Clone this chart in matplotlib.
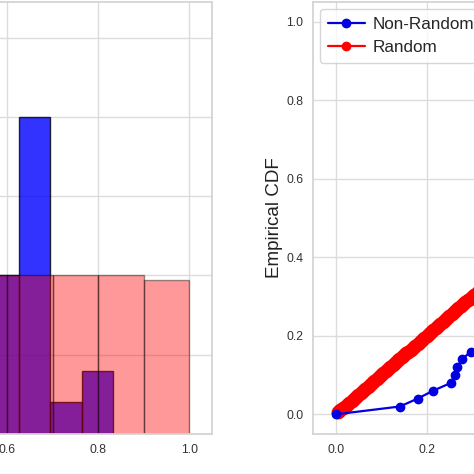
import matplotlib
matplotlib.use("Agg")
import matplotlib.pyplot as plt
import numpy as np
import seaborn as sns

# left panel: histogram bars (bin edges + bar heights)
blue_bins = [0.421, 0.490, 0.558, 0.626, 0.694, 0.763, 0.832]
blue_heights = [2.2, 5.2, 2.0, 4.0, 0.4, 0.8]
red_bins = [0.5, 0.6, 0.7, 0.8, 0.9, 1.0]
red_heights = [2.0, 2.0, 2.0, 2.0, 1.94]

# right panel: empirical CDF points
nonrandom_x = [0.0, 0.141, 0.180, 0.214, 0.253, 0.262, 0.267, 0.278, 0.297, 0.33]
nonrandom_y = [0.0, 0.020, 0.040, 0.060, 0.080, 0.100, 0.120, 0.140, 0.160, 0.18]
# sorted "random" sample values (they sit on the diagonal)
random_x = [0.005, 0.010, 0.015, 0.020, 0.025, 0.030, 0.035, 0.040, 0.045, 0.050,
            0.055, 0.060, 0.065, 0.070, 0.075, 0.080, 0.085, 0.090, 0.095, 0.100,
            0.105, 0.110, 0.115, 0.120, 0.125, 0.130, 0.135, 0.140, 0.145, 0.150,
            0.155, 0.160, 0.165, 0.170, 0.175, 0.180, 0.185, 0.190, 0.195, 0.200,
            0.205, 0.210, 0.215, 0.220, 0.225, 0.230, 0.235, 0.240, 0.245, 0.250,
            0.255, 0.260, 0.265, 0.270, 0.275, 0.280, 0.285, 0.290, 0.295, 0.300,
            0.305, 0.310, 0.315, 0.320, 0.325, 0.330, 0.335, 0.340, 0.345, 0.350,
            0.355, 0.360, 0.365, 0.370, 0.375, 0.380, 0.385, 0.390, 0.395, 0.400,
            0.405, 0.410, 0.415, 0.420, 0.425, 0.430, 0.435, 0.440, 0.445, 0.450,
            0.455, 0.460, 0.465, 0.470, 0.475, 0.480, 0.485, 0.490, 0.495, 0.500,
            0.505, 0.510, 0.515, 0.520, 0.525, 0.530, 0.535, 0.540, 0.545, 0.550,
            0.555, 0.560, 0.565, 0.570, 0.575, 0.580, 0.585, 0.590, 0.595, 0.600,
            0.605, 0.610, 0.615, 0.620, 0.625, 0.630, 0.635, 0.640, 0.645, 0.650,
            0.655, 0.660, 0.665, 0.670, 0.675, 0.680, 0.685, 0.690, 0.695, 0.700,
            0.705, 0.710, 0.715, 0.720, 0.725, 0.730, 0.735, 0.740, 0.745, 0.750,
            0.755, 0.760, 0.765, 0.770, 0.775, 0.780, 0.785, 0.790, 0.795, 0.800,
            0.805, 0.810, 0.815, 0.820, 0.825, 0.830, 0.835, 0.840, 0.845, 0.850,
            0.855, 0.860, 0.865, 0.870, 0.875, 0.880, 0.885, 0.890, 0.895, 0.900,
            0.905, 0.910, 0.915, 0.920, 0.925, 0.930, 0.935, 0.940, 0.945, 0.950,
            0.955, 0.960, 0.965, 0.970, 0.975, 0.980, 0.985, 0.990, 0.995, 1.000]
tick_vals = [0.0, 0.2, 0.4, 0.6, 0.8, 1.0]
hist_yticks = [0, 1, 2, 3, 4, 5]

sns.set_style("whitegrid")
plt.rcParams['font.family'] = ['Liberation Sans', 'DejaVu Sans']

W = 474.0
fig = plt.figure(figsize=(4.74, 4.74), dpi=100)
# the picture is a crop of a wider figure: axes run past the canvas edges
ax_h = fig.add_axes([-288 / W, 40 / W, 500 / W, 432 / W])
ax_c = fig.add_axes([313 / W, 40 / W, 500 / W, 432 / W])

# histogram
ax_h.hist(blue_bins[:-1], bins=blue_bins, weights=blue_heights,
          color="blue", alpha=0.8, edgecolor="black", linewidth=1)
ax_h.hist(red_bins[:-1], bins=red_bins, weights=red_heights,
          color="red", alpha=0.4, edgecolor="black", linewidth=1)
ax_h.set_xlim(-0.05, 1.05)
ax_h.set_ylim(0, 5.45)
ax_h.set_xticks(tick_vals)
ax_h.set_yticks(hist_yticks)

# ECDF
r_y = np.arange(1, len(random_x) + 1) / len(random_x)
l_rand, = ax_c.plot(random_x, r_y, '-o', color="red", markersize=9,
                    linewidth=1.6, label="Random")
l_non, = ax_c.plot(nonrandom_x, nonrandom_y, '-o', color="#0000e0",
                   markersize=6, linewidth=1.6, label="Non-Random")
ax_c.set_xlim(-0.05, 1.05)
ax_c.set_ylim(-0.05, 1.05)
ax_c.set_xticks(tick_vals)
ax_c.set_yticks(tick_vals)
ax_c.set_ylabel("Empirical CDF", fontsize=13.6, color="#222222", labelpad=2)
leg = ax_c.legend(handles=[l_non, l_rand], loc="upper left", fontsize=12.3,
                  borderaxespad=0.4, borderpad=0.45, handlelength=2.2,
                  handletextpad=0.45, labelspacing=0.5, frameon=True)
leg.legend_handles[1].set_markersize(6)

for ax in (ax_h, ax_c):
    ax.tick_params(length=0, pad=7, labelsize=8.8, labelcolor="#333333")
    ax.grid(True, color="#dcdcdc", linewidth=1)
    for s in ax.spines.values():
        s.set_color("#d4d4d4")
        s.set_linewidth(1.3)
    ax.set_axisbelow(True)

fig.savefig("out.png", dpi=100)
